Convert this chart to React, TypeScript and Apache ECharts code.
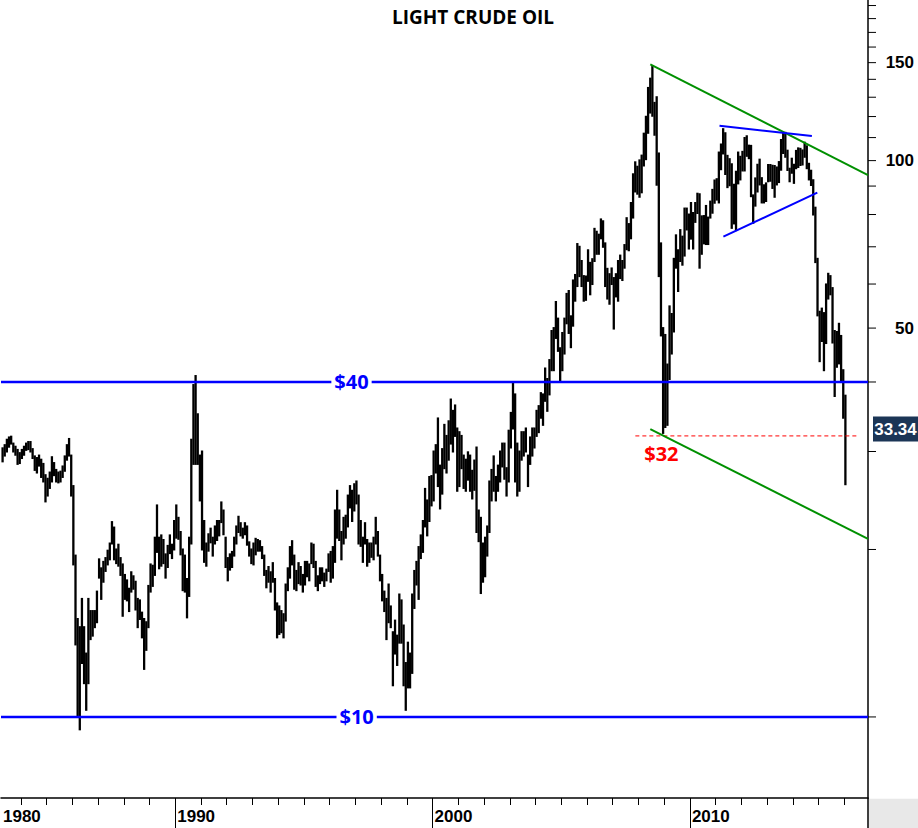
import { useEffect, useRef } from 'react';
import * as echarts from 'echarts';

// ---- axis ranges ----
const X_MIN = 1983.23;
const X_MAX = 2016.92;
const Y_MIN = 7.15;
const Y_MAX = 194.4;

// first bar = April 1983 (month index 3)
const START_YEAR = 1983;
const START_MONTH = 3;

// monthly [high, low], Apr 1983 .. Dec 1989
const ranges1980s = [
  [30.4, 28.8], [30.8, 29.5], [31.5, 30.0], [31.8, 30.6], [31.9, 31.0], [31.0, 30.0], [30.6, 29.6], [30.2, 28.5], [29.8, 28.6],
  [30.2, 29.2], [30.6, 29.6], [31.0, 30.2], [31.2, 30.3], [31.2, 30.0], [30.3, 29.2], [29.4, 27.8], [29.2, 27.5], [29.5, 28.3], [29.0, 27.0], [28.5, 26.5], [27.2, 24.4],
  [26.8, 25.0], [27.5, 25.8], [29.3, 26.5], [28.6, 27.2], [27.8, 26.5], [27.5, 26.4], [27.6, 26.5], [28.2, 27.0], [29.4, 27.7], [30.8, 29.0], [31.6, 29.5], [29.5, 25.0],
  [26.0, 18.8], [19.5, 13.5], [15.0, 10.0], [14.5, 9.5], [16.3, 12.5], [14.5, 11.5], [13.0, 10.3], [16.3, 11.5], [15.5, 13.8], [15.5, 14.0], [15.5, 14.5], [16.8, 14.8],
  [19.2, 17.8], [18.5, 16.3], [19.0, 17.5], [19.3, 18.3], [19.9, 18.8], [20.5, 19.2], [22.4, 20.5], [21.9, 19.2], [20.0, 18.9], [20.4, 18.7], [19.3, 18.0], [18.8, 15.2],
  [18.0, 16.3], [17.6, 16.2], [17.0, 15.5], [18.2, 16.8], [17.9, 17.0], [17.5, 15.6], [16.3, 14.5], [16.2, 15.0], [15.4, 13.9], [15.0, 12.2], [14.8, 13.2], [17.2, 14.5],
  [18.8, 16.8], [18.7, 17.2], [21.0, 18.0], [24.0, 19.8], [21.0, 18.5], [21.2, 18.7], [20.8, 18.9], [19.6, 17.8], [20.3, 18.6], [21.2, 19.7], [20.4, 19.3], [22.5, 20.0],
];

// monthly [high, low], 1990 .. 1999
const ranges1990s = [
  [24.0, 21.0], [22.8, 20.9], [21.5, 19.6], [20.0, 16.9], [19.5, 16.8], [17.7, 15.1], [21.0, 16.5], [31.5, 20.5], [39.5, 28.5], [41.0, 28.5], [35.0, 28.5], [29.5, 24.5],
  [30.0, 20.0], [22.5, 19.0], [20.5, 18.7], [21.3, 19.9], [21.8, 20.6], [21.0, 19.5], [22.0, 20.5], [22.5, 20.8], [22.5, 21.2], [24.3, 22.4], [23.5, 21.3], [21.0, 18.6],
  [19.3, 17.6], [19.6, 18.4], [19.8, 18.6], [21.0, 19.5], [22.0, 20.5], [22.9, 21.5], [22.3, 21.2], [21.8, 21.0], [22.3, 21.3], [22.0, 20.4], [20.6, 19.5], [20.0, 18.9],
  [20.5, 18.8], [20.9, 19.6], [20.8, 19.9], [20.7, 19.9], [20.2, 19.3], [19.5, 18.0], [18.3, 17.1], [18.6, 17.5], [18.2, 16.8], [18.9, 17.5], [17.7, 15.6], [16.0, 13.9],
  [15.8, 14.1], [15.5, 14.2], [15.3, 13.9], [17.3, 14.9], [18.5, 16.9], [20.2, 17.8], [20.7, 18.8], [19.5, 17.0], [18.3, 16.9], [18.9, 17.4], [18.6, 17.3], [18.0, 16.8],
  [19.0, 17.3], [19.0, 17.9], [18.8, 17.6], [20.5, 18.9], [20.4, 18.6], [19.0, 17.2], [17.9, 16.9], [18.5, 17.4], [18.5, 17.6], [18.1, 17.2], [18.4, 17.6], [19.6, 18.3],
  [19.8, 17.5], [20.2, 17.8], [23.5, 19.0], [25.5, 21.0], [23.5, 20.8], [21.5, 19.2], [22.8, 20.5], [23.0, 21.0], [25.0, 22.0], [26.0, 23.8], [25.5, 22.5], [26.2, 23.5],
  [26.5, 24.2], [25.0, 20.5], [22.5, 20.3], [21.0, 19.0], [22.3, 20.5], [20.8, 18.7], [20.5, 19.0], [20.5, 19.4], [21.0, 19.2], [22.8, 20.5], [21.5, 19.5], [19.5, 17.6],
  [18.0, 16.2], [16.8, 15.5], [16.3, 13.8], [17.3, 14.8], [15.8, 14.5], [14.2, 11.4], [14.9, 13.0], [14.0, 12.4], [16.6, 13.6], [16.2, 13.6], [14.6, 11.4], [12.5, 10.3],
  [13.6, 11.3], [13.0, 11.3], [16.6, 12.0], [18.3, 15.7], [19.0, 17.3], [20.2, 16.3], [21.2, 19.3], [22.5, 19.8], [25.7, 22.0], [24.5, 21.2], [27.0, 22.5], [27.1, 24.0],
];

// monthly [high, low], 2000 .. 2009
const ranges2000s = [
  [30.0, 24.5], [30.8, 27.5], [34.4, 26.0], [28.3, 23.7], [30.3, 25.2], [33.5, 28.0], [32.0, 27.5], [34.0, 29.0], [37.2, 31.0], [35.5, 30.0], [36.3, 32.0], [33.0, 25.5],
  [32.5, 26.0], [32.0, 28.0], [29.5, 25.8], [29.0, 25.5], [29.9, 26.7], [29.5, 25.5], [27.7, 24.7], [28.9, 25.6], [30.5, 21.5], [23.5, 20.7], [22.8, 16.7], [20.5, 17.5],
  [21.0, 17.9], [22.0, 19.5], [26.5, 21.5], [27.8, 24.5], [29.4, 25.5], [27.0, 24.5], [28.3, 25.5], [30.0, 26.5], [31.0, 28.2], [31.0, 26.8], [28.0, 25.0], [32.7, 26.5],
  [35.2, 30.5], [40.0, 33.0], [38.0, 26.5], [31.0, 25.0], [30.0, 25.5], [32.5, 29.0], [32.5, 29.5], [33.0, 30.0], [29.5, 26.0], [31.8, 28.5], [33.0, 29.5], [33.0, 30.5],
  [35.5, 32.0], [36.2, 32.5], [38.2, 34.5], [38.0, 33.5], [42.3, 37.0], [40.5, 35.5], [43.8, 38.0], [49.4, 42.0], [50.0, 42.0], [55.7, 48.0], [52.0, 45.5], [46.0, 40.3],
  [49.0, 42.0], [52.0, 45.0], [57.6, 51.0], [58.3, 49.0], [52.5, 46.2], [60.9, 50.5], [62.3, 56.0], [70.8, 59.5], [70.0, 62.0], [66.0, 59.5], [62.0, 56.0], [61.9, 56.2],
  [69.0, 60.8], [65.5, 57.5], [66.5, 60.0], [75.4, 66.0], [74.5, 68.0], [73.6, 68.0], [78.4, 72.5], [77.8, 70.0], [71.0, 59.5], [63.9, 56.5], [62.5, 55.3], [64.0, 60.0],
  [61.5, 49.9], [62.5, 57.0], [66.0, 56.0], [67.5, 61.5], [66.0, 61.0], [70.5, 64.2], [78.8, 69.3], [76.9, 69.0], [83.9, 72.5], [94.5, 79.0], [99.3, 88.0], [97.5, 87.2],
  [100.1, 86.1], [102.1, 87.7], [111.8, 98.0], [119.9, 100.6], [135.1, 112.2], [140.4, 122.0], [147.3, 120.4], [127.0, 111.3], [130.0, 90.5], [103.0, 62.0], [71.0, 48.5], [50.0, 32.4],
  [48.6, 33.2], [43.0, 33.5], [54.7, 40.5], [53.0, 45.0], [66.6, 49.3], [73.4, 64.2], [69.0, 58.3], [75.0, 66.0], [73.0, 65.0], [82.0, 67.5], [82.0, 75.2], [80.0, 69.5],
];

// monthly [high, low], 2010 .. Jan 2016
const ranges2010s = [
  [83.9, 72.4], [80.5, 69.5], [83.9, 77.6], [87.2, 80.5], [87.0, 64.2], [79.4, 68.0], [79.5, 71.0], [82.9, 70.8], [79.0, 70.8], [84.4, 79.0], [88.6, 80.6], [92.1, 84.0],
  [92.6, 85.1], [103.4, 84.1], [106.9, 96.5], [113.9, 103.0], [112.0, 94.6], [102.0, 89.6], [100.6, 90.3], [98.5, 75.7], [90.5, 77.1], [95.5, 75.0], [103.4, 91.0], [101.6, 92.5],
  [103.7, 96.0], [109.8, 96.0], [110.6, 102.0], [106.4, 101.0], [106.3, 86.3], [86.6, 77.3], [92.9, 83.0], [98.3, 88.0], [100.4, 90.6], [93.0, 84.1], [90.3, 84.1], [91.0, 84.6],
  [98.2, 91.8], [98.2, 92.0], [97.9, 89.3], [97.8, 86.1], [97.2, 90.6], [99.4, 91.5], [108.9, 96.3], [112.2, 103.2], [112.2, 101.6], [104.2, 96.2], [96.7, 91.8], [100.8, 95.1],
  [98.3, 91.2], [104.1, 96.9], [105.2, 97.4], [105.0, 98.2], [104.3, 98.4], [107.7, 101.6], [106.1, 96.9], [98.7, 92.5], [95.9, 90.4], [92.2, 80.0], [82.3, 65.7], [66.6, 52.7],
  [53.5, 43.6], [54.2, 47.4], [53.2, 42.0], [59.9, 47.0], [62.6, 56.5], [62.0, 57.5], [59.0, 47.1], [49.4, 37.75], [49.2, 42.6], [50.9, 43.2], [48.4, 40.0], [42.0, 34.5],
  [37.8, 26.2],
];

const lastPrice = 33.34;

// ---- ticks / labels ----
const yearTicks = [1984, 1985, 1986, 1987, 1988, 1989, 1990, 1991, 1992, 1993, 1994, 1995, 1996, 1997, 1998, 1999,
  2000, 2001, 2002, 2003, 2004, 2005, 2006, 2007, 2008, 2009, 2010, 2011, 2012, 2013, 2014, 2015, 2016];
const decadeTicks = [1990, 2000, 2010];
const decadeLabelValues = [X_MIN, 1990, 2000, 2010];
const decadeLabelTexts = ['1980', '1990', '2000', '2010'];
const priceTicks = [10, 20, 30, 40, 50, 60, 70, 80, 90, 100, 110, 120, 130, 140, 150, 160, 170, 180, 190];
const priceLabels = [50, 100, 150];

// ---- drawn lines (year, price) ----
const level40 = [[X_MIN, 40], [X_MAX, 40]];
const level10 = [[X_MIN, 10], [X_MAX, 10]];
const level32 = [[2007.88, 32], [2016.54, 32]];
const channelTop = [[2008.46, 148.9], [X_MAX, 94.2]];
const channelBottom = [[2008.46, 32.9], [X_MAX, 20.9]];
const triangleTop = [[2011.15, 115.5], [2014.74, 110.7]];
const triangleBottom = [[2011.30, 73.0], [2014.95, 87.6]];

// label anchors (year, price)
const label40 = [1996.85, 40];
const label10 = [1997.05, 10];
const label32 = [2008.89, 29.8];

const allRanges = [...ranges1980s, ...ranges1990s, ...ranges2000s, ...ranges2010s];
const bars = allRanges.map((r, i) => {
  const m = START_MONTH + i;
  return [START_YEAR + (m + 0.5) / 12, r[1], r[0]];
});

const lineSeries = (data: number[][], color: string, width: number, type: any = 'solid') => ({
  type: 'line',
  data,
  symbol: 'none',
  silent: true,
  animation: false,
  z: 5,
  lineStyle: { color, width, type },
});

export default function App() {
  const ref = useRef<HTMLDivElement>(null);

  useEffect(() => {
    if (!ref.current) return;
    const chart = echarts.init(ref.current, null, { renderer: 'svg' });
    const axisFont = '"Liberation Sans", Arial, sans-serif';

    chart.setOption({
      animation: false,
      backgroundColor: '#ffffff',
      grid: { left: 0, right: 50, top: 0, bottom: 30, containLabel: false },
      xAxis: [
        {
          type: 'value',
          min: X_MIN,
          max: X_MAX,
          position: 'bottom',
          axisLine: { show: true, onZero: false, lineStyle: { color: '#000', width: 1.5 } },
          axisTick: { show: true, customValues: yearTicks, length: 7, lineStyle: { color: '#000', width: 1 } },
          axisLabel: { show: false },
          splitLine: { show: false },
        },
        {
          type: 'value',
          min: X_MIN,
          max: X_MAX,
          position: 'bottom',
          axisLine: { show: false, onZero: false },
          axisTick: { show: true, customValues: decadeTicks, length: 30, lineStyle: { color: '#000', width: 1 } },
          axisLabel: {
            show: true,
            customValues: decadeLabelValues,
            formatter: (v: number) => decadeLabelTexts[decadeLabelValues.findIndex((d) => Math.abs(d - v) < 0.01)] ?? '',
            align: 'left',
            padding: [0, 0, 0, 2],
            margin: 10,
            color: '#000',
            fontWeight: 'bold',
            fontSize: 17,
            fontFamily: axisFont,
          },
          splitLine: { show: false },
        },
      ],
      yAxis: {
        type: 'log',
        logBase: 10,
        min: Y_MIN,
        max: Y_MAX,
        position: 'right',
        axisLine: { show: true, onZero: false, lineStyle: { color: '#000', width: 1.5 } },
        axisTick: { show: false },
        axisLabel: { show: false },
        splitLine: { show: false },
      },
      series: [
        {
          type: 'custom',
          xAxisIndex: 0,
          yAxisIndex: 0,
          clip: true,
          silent: true,
          z: 2,
          encode: { x: 0, y: [1, 2] },
          data: bars,
          renderItem: (_params: any, api: any) => {
            const t = api.value(0);
            const lo = api.value(1);
            const hi = api.value(2);
            const a = api.coord([t, lo]);
            const b = api.coord([t, hi]);
            return {
              type: 'line',
              shape: { x1: a[0], y1: a[1] + 1, x2: b[0], y2: b[1] - 1 },
              style: { stroke: '#000', lineWidth: 2.3 },
            };
          },
        },
        lineSeries(level40, '#0000ff', 2.5),
        lineSeries(level10, '#0000ff', 2.5),
        lineSeries(level32, '#ff0000', 1, [4, 3]),
        lineSeries(channelTop, '#009000', 2),
        lineSeries(channelBottom, '#009000', 2),
        lineSeries(triangleTop, '#0000ff', 2),
        lineSeries(triangleBottom, '#0000ff', 2),
      ],
    });

    const toPx = (p: number[]) => chart.convertToPixel({ gridIndex: 0 }, p) as number[];
    const yPx = (v: number) => chart.convertToPixel({ yAxisIndex: 0 }, v) as number;
    const axisX = toPx([X_MAX, 40])[0];
    const axisBottom = toPx([X_MIN, Y_MIN])[1];

    const graphics: any[] = [];
    priceTicks.forEach((v) => {
      const y = yPx(v);
      graphics.push({ type: 'line', silent: true, shape: { x1: axisX, y1: y, x2: axisX + 8, y2: y }, style: { stroke: '#000', lineWidth: 1 } });
    });
    priceLabels.forEach((v) => {
      graphics.push({
        type: 'text', silent: true, x: 914, y: yPx(v),
        style: { text: String(v), fill: '#000', fontSize: 17, fontWeight: 'bold', fontFamily: axisFont, align: 'right', verticalAlign: 'middle' },
      });
    });
    // axis line extension and corner box
    graphics.push({ type: 'rect', silent: true, shape: { x: axisX + 0.75, y: axisBottom + 0.75, width: 918 - axisX, height: 828 - axisBottom }, style: { fill: '#e8e8e8' } });
    graphics.push({ type: 'line', silent: true, shape: { x1: axisX, y1: axisBottom, x2: axisX, y2: 828 }, style: { stroke: '#000', lineWidth: 1.5 } });

    // title
    graphics.push({
      type: 'text', silent: true, x: 473, y: 17,
      style: { text: 'LIGHT CRUDE OIL', fill: '#000', fontSize: 19, fontWeight: 'bold', fontFamily: '"Open Sans", sans-serif', align: 'center', verticalAlign: 'middle' },
    });

    const levelLabel = (pos: number[], text: string, color: string, bg: boolean) => {
      const p = toPx(pos);
      graphics.push({
        type: 'text', silent: true, x: p[0], y: p[1], z: 10,
        style: {
          text, fill: color, fontSize: 20, fontWeight: 'bold', fontFamily: '"Open Sans", sans-serif',
          align: 'center', verticalAlign: 'middle',
          backgroundColor: bg ? '#ffffff' : 'transparent', padding: bg ? [0, 3, 0, 3] : 0,
        },
      });
    };
    levelLabel(label40, '$40', '#0000ff', true);
    levelLabel(label10, '$10', '#0000ff', true);
    levelLabel(label32, '$32', '#ff0000', false);

    // last price tag
    const ly = yPx(lastPrice) + 3;
    graphics.push({ type: 'rect', silent: true, z: 10, shape: { x: axisX + 5, y: ly - 12.5, width: 918 - axisX - 5, height: 25 }, style: { fill: '#1b3556' } });
    graphics.push({
      type: 'text', silent: true, z: 11, x: axisX + 5 + (918 - axisX - 5) / 2, y: ly,
      style: { text: lastPrice.toFixed(2), fill: '#ffffff', fontSize: 17, fontWeight: 'bold', fontFamily: axisFont, align: 'center', verticalAlign: 'middle' },
    });

    chart.setOption({ graphic: graphics });

    return () => chart.dispose();
  }, []);

  return <div ref={ref} style={{ position: 'fixed', left: 0, top: 0, width: 918, height: 828 }} />;
}
